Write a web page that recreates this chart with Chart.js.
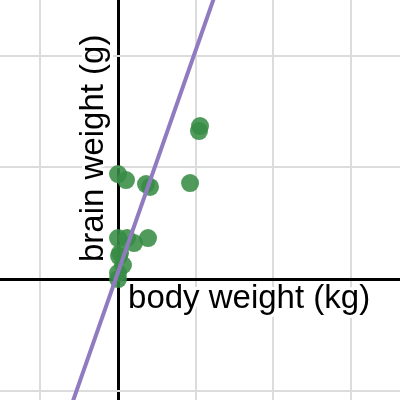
<!DOCTYPE html>
<html>
<head>
<meta charset="utf-8">
<script src="https://cdn.jsdelivr.net/npm/chart.js@4"></script>
<style>
  html, body { margin: 0; padding: 0; background: #fff; }
  canvas { display: block; }
</style>
</head>
<body>
<canvas id="chart" width="400" height="400"></canvas>
<script>
// body weight (kg) and brain weight (g)
const bodyWeight  = [0, 10.3, 36.0, 41.2, 92.7, 105.5, 104.2, 0, 11.6, 20.6, 38.6, 2.6, 1.3, 6.4, 0, 0];
const brainWeight = [94.0, 88.6, 85.0, 82.4, 85.9, 137.0, 132.5, 36.7, 36.7, 32.2, 36.7, 23.3, 20.6, 12.5, 5.4, 0];
// fitted line y = slope * x + intercept
const fitSlope = 1.988;
const fitIntercept = 6.1;
const xRange = [-151.9, 362.9];
const yRange = [-108.3, 249.8];
const xLabel = 'body weight (kg)';
const yLabel = 'brain weight (g)';

document.addEventListener('DOMContentLoaded', function () {
  const ctx = document.getElementById('chart');
  const points = bodyWeight.map((x, i) => ({ x: x, y: brainWeight[i] }));
  const fitLine = xRange.map(x => ({ x: x, y: fitSlope * x + fitIntercept }));

  const font = '33px "Liberation Sans", Arial, sans-serif';
  const axisLabels = {
    id: 'axisLabels',
    afterDatasetsDraw(chart) {
      const c = chart.ctx;
      const ox = chart.scales.x.getPixelForValue(0);
      const oy = chart.scales.y.getPixelForValue(0);
      c.save();
      c.font = font;
      c.lineJoin = 'round';
      c.lineWidth = 6;
      c.strokeStyle = '#fff';
      c.fillStyle = '#000';
      c.textBaseline = 'alphabetic';
      c.textAlign = 'left';
      c.strokeText(xLabel, ox + 10, oy + 29);
      c.fillText(xLabel, ox + 10, oy + 29);
      c.translate(ox - 15, oy - 17);
      c.rotate(-Math.PI / 2);
      c.strokeText(yLabel, 0, 0);
      c.fillText(yLabel, 0, 0);
      c.restore();
    }
  };

  const gridColor = c => c.tick.value === 0 ? '#000' : '#dcdcdc';
  const gridWidth = c => c.tick.value === 0 ? 3 : 2;

  new Chart(ctx, {
    type: 'scatter',
    data: {
      datasets: [
        {
          type: 'line',
          data: fitLine,
          borderColor: 'rgb(144,123,193)',
          borderWidth: 4,
          pointRadius: 0,
          fill: false
        },
        {
          data: points,
          backgroundColor: 'rgba(56,140,70,0.88)',
          borderWidth: 0,
          pointRadius: 9
        }
      ]
    },
    options: {
      responsive: false,
      animation: false,
      layout: { padding: 0, autoPadding: false },
      plugins: { legend: { display: false }, tooltip: { enabled: false } },
      scales: {
        x: {
          type: 'linear',
          min: xRange[0],
          max: xRange[1],
          border: { display: false },
          grid: { color: gridColor, lineWidth: gridWidth, drawTicks: false },
          ticks: { display: false, stepSize: 100, includeBounds: false }
        },
        y: {
          type: 'linear',
          min: yRange[0],
          max: yRange[1],
          border: { display: false },
          grid: { color: gridColor, lineWidth: gridWidth, drawTicks: false },
          ticks: { display: false, stepSize: 100, includeBounds: false }
        }
      }
    },
    plugins: [axisLabels]
  });
});
</script>
</body>
</html>
